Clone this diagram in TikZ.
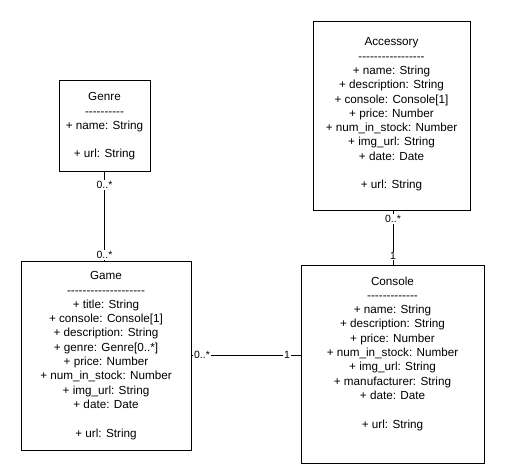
\documentclass[tikz,border=0pt]{standalone}
\usepackage{fontspec}
\setmainfont{Liberation Sans}[Ligatures=TeXOff]
\begin{document}
\begin{tikzpicture}[x=1pt,y=-1pt,
  box/.style={draw=black,line width=1pt,rectangle,inner sep=0pt,fill=white},
  txt/.style={align=center,inner sep=0pt,font=\fontsize{11.7}{14.3}\selectfont},
  lbl/.style={fill=white,inner sep=0.8pt,font=\fontsize{10.5}{12}\selectfont},
  conn/.style={line width=1pt,draw=black}]
\useasboundingbox[fill=white] (0,0) rectangle (506,471);
% boxes
\node[box,minimum width=91pt,minimum height=91pt] (genre) at (104.5,125.5) {};
\node[box,minimum width=157pt,minimum height=189pt] (acc) at (391.5,115.5) {};
\node[box,minimum width=170pt,minimum height=189pt] (game) at (106,355.5) {};
\node[box,minimum width=183pt,minimum height=198pt] (console) at (392.5,364) {};
% texts
\node[txt] (genreT) at (104.5,126.5) {Genre\\----------\\+ name: String\\ \\+ url: String};
\node[txt] (accT) at (391.5,114.5) {Accessory\\-----------------\\+ name: String\\+ description: String\\+ console: Console[1]\\+ price: Number\\+ num\_in\_stock: Number\\+ img\_url: String\\+ date: Date\\ \\+ url: String};
\node[txt] (gameT) at (106,355.5) {Game\\--------------------\\+ title: String\\+ console: Console[1]\\+ description: String\\+ genre: Genre[0..*]\\+ price: Number\\+ num\_in\_stock: Number\\+ img\_url: String\\+ date: Date\\ \\+ url: String};
\node[txt] (consoleT) at (392.5,353.5) {Console\\-------------\\+ name: String\\+ description: String\\+ price: Number\\+ num\_in\_stock: Number\\+ img\_url: String\\+ manufacturer: String\\+ date: Date\\ \\+ url: String};
% connectors
\coordinate (gtop) at (genre.south |- game.north);
\draw[conn] (genre.south) -- (gtop);
\coordinate (ctop) at (acc.south -| 393,0);
\coordinate (cbot) at (console.north -| 393,0);
\draw[conn] (ctop) -- (cbot);
\coordinate (gcR) at (game.east |- 0,355);
\coordinate (gcL) at (console.west |- 0,355);
\draw[conn] (gcR) -- (gcL);
% multiplicities
\node[lbl] (m1) at (104.5,185) {0..*};
\node[lbl] (m2) at (104.5,255) {0..*};
\node[lbl] (m3) at (393,219) {0..*};
\node[lbl] (m4) at (393,256) {1};
\node[lbl] (m5) at (202,355) {0..*};
\node[lbl] (m6) at (287,355) {1};
\end{tikzpicture}
\end{document}
